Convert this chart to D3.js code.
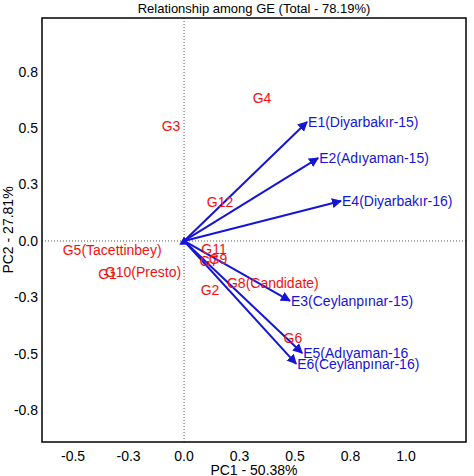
<!DOCTYPE html>
<html><head><meta charset="utf-8">
<script src="https://cdn.jsdelivr.net/npm/d3@7"></script>
<style>body{margin:0;background:#fff}text{font-family:Arial,"Liberation Sans",sans-serif}</style>
</head><body><div id="chart"></div>
<script>
// environment vectors (PC1, PC2)
const envNames = ["E1(Diyarbakır-15)", "E2(Adıyaman-15)", "E4(Diyarbakır-16)", "E3(Ceylanpınar-15)", "E5(Adıyaman-16", "E6(Ceylanpınar-16)"];
const envPC1 = [0.554, 0.604, 0.707, 0.477, 0.532, 0.505];
const envPC2 = [0.527, 0.367, 0.177, -0.265, -0.496, -0.544];
// genotype scores (label centres)
const genNames = ["G4", "G3", "G12", "G5(Tacettinbey)", "G10(Presto)", "G1", "G11", "G7", "G9", "G2", "G8(Candidate)", "G6"];
const genPC1 = [0.351, -0.059, 0.162, -0.324, -0.185, -0.345, 0.135, 0.112, 0.153, 0.117, 0.400, 0.490];
const genPC2 = [0.633, 0.509, 0.173, -0.040, -0.137, -0.146, -0.035, -0.090, -0.082, -0.217, -0.186, -0.430];
const xTicks = [-0.5, -0.25, 0, 0.25, 0.5, 0.75, 1.0];
const yTicks = [0.75, 0.5, 0.25, 0, -0.25, -0.5, -0.75];

const W = 474, H = 476;
const m = {top: 18, right: 8, bottom: 34, left: 42};
const svg = d3.select("#chart").append("svg").attr("width", W).attr("height", H);
const x = d3.scaleLinear().domain([-0.64, 1.27]).range([m.left, W - m.right]);
const y = d3.scaleLinear().domain([-0.89, 0.987]).range([H - m.bottom, m.top]);
const fmt = d => (Math.sign(d) * Math.round(Math.abs(d) * 10) / 10).toFixed(1);

svg.append("text").attr("x", (m.left + W - m.right) / 2).attr("y", 13)
    .attr("text-anchor", "middle").style("font-size", "13px")
    .text("Relationship among GE (Total - 78.19%)");

// reference lines
svg.append("line").attr("x1", x(0)).attr("x2", x(0)).attr("y1", m.top).attr("y2", H - m.bottom)
    .attr("stroke", "#555").attr("stroke-dasharray", "1,2");
svg.append("line").attr("x1", m.left).attr("x2", W - m.right).attr("y1", y(0)).attr("y2", y(0))
    .attr("stroke", "#555").attr("stroke-dasharray", "1,2");

svg.append("rect").attr("x", m.left).attr("y", m.top)
    .attr("width", W - m.right - m.left).attr("height", H - m.bottom - m.top)
    .attr("fill", "none").attr("stroke", "#000").attr("stroke-width", 1.5);

svg.append("g").selectAll("text").data(xTicks).join("text")
    .attr("x", d => x(d)).attr("y", H - m.bottom + 19).attr("text-anchor", "middle")
    .style("font-size", "14px").text(fmt);
svg.append("g").selectAll("text").data(yTicks).join("text")
    .attr("x", m.left - 4).attr("y", d => y(d) + 5).attr("text-anchor", "end")
    .style("font-size", "14px").text(fmt);

svg.append("text").attr("x", (m.left + W - m.right) / 2).attr("y", H - 1)
    .attr("text-anchor", "middle").style("font-size", "14px").text("PC1 - 50.38%");
svg.append("text").attr("transform", `translate(13,${(m.top + H - m.bottom) / 2}) rotate(-90)`)
    .attr("text-anchor", "middle").style("font-size", "14px").text("PC2 - 27.81%");

svg.append("defs").append("marker").attr("id", "arr")
    .attr("viewBox", "0 0 10 10").attr("refX", 9).attr("refY", 5)
    .attr("markerWidth", 5).attr("markerHeight", 5).attr("orient", "auto")
    .append("path").attr("d", "M0,0L10,5L0,10z").attr("fill", "#1515d6");

// origin triangle
svg.append("path").attr("d", d3.symbol(d3.symbolTriangle, 40)())
    .attr("transform", `translate(${x(0)},${y(0) + 1})`).attr("fill", "#1515d6");

const env = envNames.map((n, i) => ({n, a: envPC1[i], b: envPC2[i]}));
svg.append("g").selectAll("line").data(env).join("line")
    .attr("x1", x(0)).attr("y1", y(0)).attr("x2", d => x(d.a)).attr("y2", d => y(d.b))
    .attr("stroke", "#1515d6").attr("stroke-width", 2).attr("marker-end", "url(#arr)");
svg.append("g").selectAll("text").data(env).join("text")
    .attr("x", d => x(d.a) + 1).attr("y", d => y(d.b) + 5)
    .attr("fill", "#1515d6").style("font-size", "14px").text(d => d.n);

const gen = genNames.map((n, i) => ({n, a: genPC1[i], b: genPC2[i]}));
svg.append("g").selectAll("text").data(gen).join("text")
    .attr("x", d => x(d.a)).attr("y", d => y(d.b) + 5).attr("text-anchor", "middle")
    .attr("fill", "#ee1111").style("font-size", "14px").text(d => d.n);
</script></body></html>
